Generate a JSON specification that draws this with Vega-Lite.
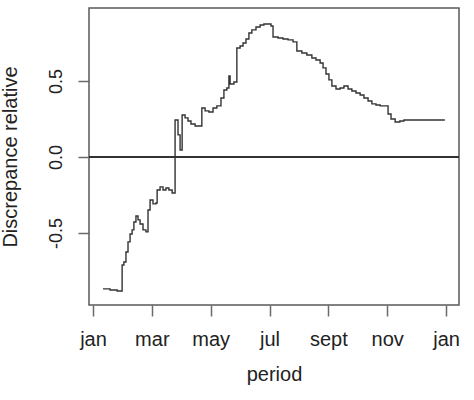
{
  "$schema": "https://vega.github.io/schema/vega-lite/v6.json",
  "width": 370,
  "height": 297,
  "autosize": "none",
  "padding": {"left": 89, "top": 8, "right": 15, "bottom": 95},
  "background": "white",
  "config": {
    "font": "Liberation Sans",
    "view": {"stroke": "#5a5a5a", "strokeWidth": 1.5},
    "axis": {"grid": false, "domain": false, "tickColor": "#6a6a6a", "tickWidth": 1.5, "tickSize": 11, "labelColor": "#222", "titleColor": "#222", "labelFont": "Liberation Sans", "titleFont": "Liberation Sans", "titleFontWeight": "normal"}
  },
  "data": {"values": [
    {"m": 0.34, "v": -0.868}, {"m": 0.58, "v": -0.875}, {"m": 0.82, "v": -0.882},
    {"m": 0.99, "v": -0.711}, {"m": 1.05, "v": -0.691}, {"m": 1.12, "v": -0.625},
    {"m": 1.19, "v": -0.559}, {"m": 1.26, "v": -0.507}, {"m": 1.33, "v": -0.48},
    {"m": 1.39, "v": -0.428}, {"m": 1.46, "v": -0.388}, {"m": 1.53, "v": -0.414},
    {"m": 1.6, "v": -0.441}, {"m": 1.7, "v": -0.48}, {"m": 1.8, "v": -0.493},
    {"m": 1.87, "v": -0.349}, {"m": 1.94, "v": -0.283}, {"m": 2.04, "v": -0.309},
    {"m": 2.14, "v": -0.303}, {"m": 2.18, "v": -0.217}, {"m": 2.28, "v": -0.197},
    {"m": 2.38, "v": -0.217}, {"m": 2.48, "v": -0.204}, {"m": 2.58, "v": -0.217},
    {"m": 2.69, "v": -0.237}, {"m": 2.79, "v": 0.243}, {"m": 2.89, "v": 0.145},
    {"m": 2.96, "v": 0.046}, {"m": 3.03, "v": 0.276}, {"m": 3.13, "v": 0.257},
    {"m": 3.23, "v": 0.237}, {"m": 3.33, "v": 0.217}, {"m": 3.47, "v": 0.204},
    {"m": 3.6, "v": 0.204}, {"m": 3.7, "v": 0.322}, {"m": 3.81, "v": 0.303},
    {"m": 3.94, "v": 0.296}, {"m": 4.08, "v": 0.322}, {"m": 4.21, "v": 0.336},
    {"m": 4.35, "v": 0.388}, {"m": 4.45, "v": 0.441}, {"m": 4.55, "v": 0.454},
    {"m": 4.62, "v": 0.533}, {"m": 4.66, "v": 0.48}, {"m": 4.79, "v": 0.493},
    {"m": 4.89, "v": 0.717}, {"m": 5.0, "v": 0.73}, {"m": 5.1, "v": 0.75},
    {"m": 5.2, "v": 0.776}, {"m": 5.3, "v": 0.816}, {"m": 5.4, "v": 0.836},
    {"m": 5.54, "v": 0.855}, {"m": 5.68, "v": 0.868}, {"m": 5.81, "v": 0.875},
    {"m": 5.95, "v": 0.875}, {"m": 6.05, "v": 0.862}, {"m": 6.12, "v": 0.789},
    {"m": 6.29, "v": 0.783}, {"m": 6.46, "v": 0.776}, {"m": 6.63, "v": 0.77},
    {"m": 6.8, "v": 0.757}, {"m": 6.93, "v": 0.697}, {"m": 7.1, "v": 0.684},
    {"m": 7.27, "v": 0.671}, {"m": 7.44, "v": 0.651}, {"m": 7.58, "v": 0.638},
    {"m": 7.72, "v": 0.618}, {"m": 7.82, "v": 0.586}, {"m": 7.92, "v": 0.546},
    {"m": 8.02, "v": 0.507}, {"m": 8.12, "v": 0.467}, {"m": 8.26, "v": 0.447},
    {"m": 8.4, "v": 0.454}, {"m": 8.53, "v": 0.467}, {"m": 8.67, "v": 0.447},
    {"m": 8.8, "v": 0.434}, {"m": 8.94, "v": 0.421}, {"m": 9.08, "v": 0.408},
    {"m": 9.21, "v": 0.388}, {"m": 9.35, "v": 0.368}, {"m": 9.48, "v": 0.349},
    {"m": 9.62, "v": 0.342}, {"m": 9.76, "v": 0.336}, {"m": 9.93, "v": 0.336},
    {"m": 10.03, "v": 0.283}, {"m": 10.13, "v": 0.25}, {"m": 10.27, "v": 0.23},
    {"m": 10.43, "v": 0.237}, {"m": 10.57, "v": 0.243}, {"m": 11.96, "v": 0.243}
  ]},
  "layer": [
    {
      "mark": {"type": "rule", "color": "#333", "strokeWidth": 1.2},
      "encoding": {"y": {"datum": 0, "type": "quantitative", "scale": {"domain": [-0.974, 0.98]}}}
    },
    {
      "mark": {"type": "line", "interpolate": "step-after", "color": "#333", "strokeWidth": 1.4},
      "encoding": {
        "x": {"field": "m", "type": "quantitative", "scale": {"domain": [-0.136, 12.441], "nice": false, "zero": false},
          "axis": {"title": "period", "values": [0, 2, 4, 6, 8, 10, 12], "labelExpr": "['jan','mar','may','jul','sept','nov','jan'][datum.value/2]", "labelFontSize": 20, "labelPadding": 13, "titleFontSize": 20, "titlePadding": 15}},
        "y": {"field": "v", "type": "quantitative", "scale": {"domain": [-0.974, 0.98], "nice": false, "zero": false},
          "axis": {"title": "Discrepance relative", "values": [-0.5, 0, 0.5], "labelExpr": "datum.value < 0 ? '-' + format(-datum.value, '.1f') : format(datum.value, '.1f')", "labelAngle": -90, "labelAlign": "center", "labelBaseline": "bottom", "labelFontSize": 18, "labelPadding": 13, "titleFontSize": 20, "titlePadding": 27}}
      }
    }
  ]
}
